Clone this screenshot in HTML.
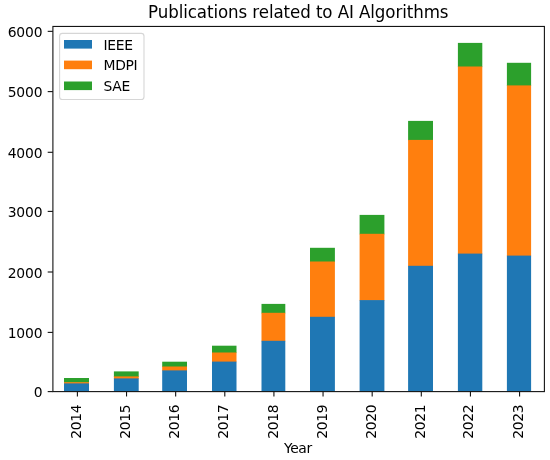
<!DOCTYPE html>
<html lang="en"><head><meta charset="utf-8"><title>Publications related to AI Algorithms</title>
<style>html,body{margin:0;padding:0;background:#fff;}body{width:550px;height:460px;overflow:hidden;}svg{display:block;}text{font-family:"DejaVu Sans","Liberation Sans",sans-serif;fill:#000;}</style>
</head><body>
<svg width="550" height="460" viewBox="0 0 550 460">
<rect x="0" y="0" width="550" height="460" fill="#ffffff"/>
<g shape-rendering="auto">
<rect x="64.00" y="378.00" width="25.0" height="4.80" fill="#2ca02c"/>
<rect x="64.00" y="382.20" width="25.0" height="1.80" fill="#ff7f0e"/>
<rect x="64.00" y="383.40" width="25.0" height="8.20" fill="#1f77b4"/>
<rect x="113.90" y="371.40" width="24.8" height="5.60" fill="#2ca02c"/>
<rect x="113.90" y="376.40" width="24.8" height="2.60" fill="#ff7f0e"/>
<rect x="113.90" y="378.40" width="24.8" height="13.20" fill="#1f77b4"/>
<rect x="162.20" y="361.70" width="24.8" height="5.40" fill="#2ca02c"/>
<rect x="162.20" y="366.50" width="24.8" height="4.50" fill="#ff7f0e"/>
<rect x="162.20" y="370.40" width="24.8" height="21.20" fill="#1f77b4"/>
<rect x="212.00" y="345.70" width="24.5" height="7.40" fill="#2ca02c"/>
<rect x="212.00" y="352.50" width="24.5" height="9.70" fill="#ff7f0e"/>
<rect x="212.00" y="361.60" width="24.5" height="30.00" fill="#1f77b4"/>
<rect x="261.50" y="303.90" width="23.8" height="9.50" fill="#2ca02c"/>
<rect x="261.50" y="312.80" width="23.8" height="28.60" fill="#ff7f0e"/>
<rect x="261.50" y="340.80" width="23.8" height="50.80" fill="#1f77b4"/>
<rect x="310.00" y="247.80" width="24.9" height="14.30" fill="#2ca02c"/>
<rect x="310.00" y="261.50" width="24.9" height="55.90" fill="#ff7f0e"/>
<rect x="310.00" y="316.80" width="24.9" height="74.80" fill="#1f77b4"/>
<rect x="359.60" y="214.90" width="24.8" height="19.50" fill="#2ca02c"/>
<rect x="359.60" y="233.80" width="24.8" height="66.90" fill="#ff7f0e"/>
<rect x="359.60" y="300.10" width="24.8" height="91.50" fill="#1f77b4"/>
<rect x="408.10" y="120.90" width="24.9" height="19.60" fill="#2ca02c"/>
<rect x="408.10" y="139.90" width="24.9" height="126.50" fill="#ff7f0e"/>
<rect x="408.10" y="265.80" width="24.9" height="125.80" fill="#1f77b4"/>
<rect x="457.90" y="42.90" width="24.4" height="24.20" fill="#2ca02c"/>
<rect x="457.90" y="66.50" width="24.4" height="187.70" fill="#ff7f0e"/>
<rect x="457.90" y="253.60" width="24.4" height="138.00" fill="#1f77b4"/>
<rect x="506.90" y="62.80" width="24.2" height="23.20" fill="#2ca02c"/>
<rect x="506.90" y="85.40" width="24.2" height="170.80" fill="#ff7f0e"/>
<rect x="506.90" y="255.60" width="24.2" height="136.00" fill="#1f77b4"/>
</g>
<g stroke="#141414" stroke-width="1.11" fill="none">
<line x1="77.40" y1="391.6" x2="77.40" y2="396.46"/>
<line x1="126.53" y1="391.6" x2="126.53" y2="396.46"/>
<line x1="175.66" y1="391.6" x2="175.66" y2="396.46"/>
<line x1="224.79" y1="391.6" x2="224.79" y2="396.46"/>
<line x1="273.92" y1="391.6" x2="273.92" y2="396.46"/>
<line x1="323.05" y1="391.6" x2="323.05" y2="396.46"/>
<line x1="372.18" y1="391.6" x2="372.18" y2="396.46"/>
<line x1="421.31" y1="391.6" x2="421.31" y2="396.46"/>
<line x1="470.44" y1="391.6" x2="470.44" y2="396.46"/>
<line x1="519.57" y1="391.6" x2="519.57" y2="396.46"/>
<line x1="52.9" y1="391.6" x2="47.70" y2="391.6"/>
<line x1="52.9" y1="332.4" x2="47.70" y2="332.4"/>
<line x1="52.9" y1="272.0" x2="47.70" y2="272.0"/>
<line x1="52.9" y1="211.4" x2="47.70" y2="211.4"/>
<line x1="52.9" y1="152.3" x2="47.70" y2="152.3"/>
<line x1="52.9" y1="91.6" x2="47.70" y2="91.6"/>
<line x1="52.9" y1="31.35" x2="47.70" y2="31.35"/>
<rect x="52.9" y="26.45" width="491.50" height="365.15" stroke-linejoin="miter"/>
</g>
<g font-size="13.89px" text-anchor="end" letter-spacing="-0.15">
<text x="42.4" y="396.90">0</text>
<text x="42.4" y="337.90">1000</text>
<text x="42.4" y="277.70">2000</text>
<text x="42.4" y="216.90">3000</text>
<text x="42.4" y="157.90">4000</text>
<text x="42.4" y="96.90">5000</text>
<text x="42.4" y="36.90">6000</text>
</g>
<g font-size="13.89px" text-anchor="start" letter-spacing="-0.33">
<text transform="translate(81.40,438.85) rotate(-90)">2014</text>
<text transform="translate(129.70,438.85) rotate(-90)">2015</text>
<text transform="translate(179.10,438.85) rotate(-90)">2016</text>
<text transform="translate(228.05,438.85) rotate(-90)">2017</text>
<text transform="translate(277.50,438.85) rotate(-90)">2018</text>
<text transform="translate(327.15,438.85) rotate(-90)">2019</text>
<text transform="translate(375.70,438.85) rotate(-90)">2020</text>
<text transform="translate(424.55,438.85) rotate(-90)">2021</text>
<text transform="translate(473.40,438.85) rotate(-90)">2022</text>
<text transform="translate(522.75,438.85) rotate(-90)">2023</text>
</g>
<text x="297.9" y="453.0" font-size="13.89px" letter-spacing="-0.4" text-anchor="middle">Year</text>
<text transform="translate(298.25,17.9) scale(1,1.07)" font-size="16.67px" letter-spacing="-0.085" text-anchor="middle">Publications related to AI Algorithms</text>
<rect x="59.6" y="33.35" width="84.4" height="66.15" rx="2.8" ry="2.8" fill="#ffffff" fill-opacity="0.8" stroke="#cccccc" stroke-opacity="0.8" stroke-width="1.11"/>
<rect x="64.0" y="40.00" width="28.0" height="8.6" fill="#1f77b4"/>
<text x="103.5" y="49.60" font-size="13.89px" letter-spacing="-0.3">IEEE</text>
<rect x="64.0" y="60.60" width="28.0" height="8.6" fill="#ff7f0e"/>
<text x="103.5" y="70.00" font-size="13.89px" letter-spacing="-0.3">MDPI</text>
<rect x="64.0" y="81.50" width="28.0" height="8.6" fill="#2ca02c"/>
<text x="103.5" y="91.00" font-size="13.89px" letter-spacing="-0.3">SAE</text>
</svg>
</body></html>
